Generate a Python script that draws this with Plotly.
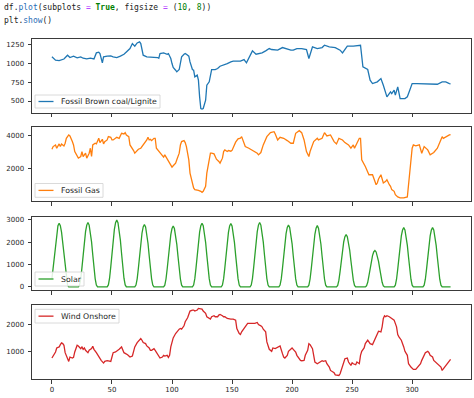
import plotly.graph_objects as go

# ---------------- data (hour index, MW) ----------------
coal_hours = [0, 3, 6, 10, 13, 15, 18, 21, 24, 26,
              29, 32, 35, 37, 39, 40, 42, 43, 46, 49,
              51, 54, 57, 60, 62, 65, 67, 68, 69, 71,
              73, 74, 76, 79, 82, 85, 88, 89, 90, 93,
              96, 97, 99, 100, 101, 103, 104, 106, 107, 108,
              110, 111, 112, 114, 115, 117, 118, 119, 121, 122,
              123, 124, 125, 126, 128, 129, 131, 132, 133, 136,
              138, 140, 143, 146, 149, 151, 157, 160, 162, 167,
              170, 175, 178, 181, 183, 188, 192, 194, 199, 201,
              204, 208, 212, 214, 217, 221, 225, 227, 231, 236,
              240, 242, 246, 251, 255, 257, 259, 262, 263, 265,
              267, 271, 274, 276, 278, 279, 282, 283, 285, 286,
              288, 289, 290, 294, 296, 298, 300, 304, 315, 321,
              325, 328, 331, 332]
coal_mw = [1090, 1044, 1040, 1060, 1111, 1080, 1098, 1075, 1089, 1071,
           1062, 1071, 1062, 1142, 1151, 1133, 1009, 1089, 1098, 1102,
           1089, 1080, 1098, 1124, 1155, 1200, 1266, 1244, 1231, 1275,
           1289, 1266, 1111, 1090, 1085, 1090, 1080, 1070, 1133, 1142,
           1124, 1133, 1067, 1000, 947, 911, 889, 920, 1000, 1089,
           1124, 1133, 1124, 1098, 1022, 920, 911, 822, 845, 778,
           556, 400, 392, 400, 511, 711, 756, 867, 920, 920,
           933, 964, 978, 1000, 1022, 1031, 1031, 1053, 1009, 1169,
           1124, 1142, 1169, 1200, 1187, 1178, 1213, 1200, 1178, 1178,
           1200, 1200, 1187, 1067, 1222, 1200, 1213, 1244, 1222, 1213,
           1178, 1142, 1231, 1231, 1240, 1244, 956, 933, 920, 778,
           733, 756, 800, 711, 600, 556, 622, 600, 644, 578,
           689, 578, 533, 533, 556, 644, 733, 733, 733, 724,
           756, 756, 733, 730]

gas_hours = [0, 1, 3, 4, 6, 7, 8, 10, 11, 12,
             14, 15, 17, 18, 19, 21, 22, 24, 25, 26,
             28, 29, 31, 32, 33, 34, 36, 37, 39, 40,
             42, 43, 44, 46, 47, 49, 50, 51, 54, 56,
             57, 58, 60, 61, 62, 64, 65, 67, 68, 69,
             71, 72, 74, 75, 76, 78, 79, 80, 81, 82,
             83, 85, 86, 87, 89, 90, 92, 93, 94, 96,
             97, 99, 100, 101, 103, 104, 106, 107, 108, 110,
             111, 112, 114, 115, 117, 118, 119, 121, 122, 124,
             125, 126, 128, 129, 131, 132, 133, 135, 136, 137,
             139, 140, 142, 143, 144, 146, 147, 149, 150, 151,
             153, 155, 157, 158, 160, 161, 164, 167, 169, 171,
             172, 174, 176, 179, 182, 185, 186, 188, 190, 193,
             196, 199, 201, 203, 206, 208, 210, 212, 214, 215,
             218, 221, 222, 225, 227, 229, 232, 235, 237, 239,
             242, 244, 247, 249, 251, 252, 254, 256, 257, 258,
             261, 264, 267, 268, 270, 271, 272, 274, 275, 276,
             278, 279, 281, 282, 283, 285, 286, 288, 290, 293,
             296, 297, 299, 300, 301, 303, 306, 308, 310, 313,
             315, 318, 321, 324, 325, 326, 328, 331, 332]
gas_mw = [3172, 3333, 3434, 3232, 3495, 3333, 3495, 3374, 3535, 3838,
          4040, 3980, 3636, 3434, 3030, 2727, 2626, 2727, 3030, 2727,
          2929, 2626, 2929, 3232, 2727, 3434, 3535, 3495, 3838, 3576,
          3778, 3495, 3636, 3737, 3939, 3899, 3737, 3737, 3899, 3838,
          4040, 4141, 4101, 4182, 4040, 3939, 3434, 3232, 3091, 2929,
          3131, 3172, 3232, 3333, 3434, 3576, 3737, 3899, 3737, 3778,
          3697, 3838, 3838, 3232, 3030, 2929, 2727, 2687, 2828, 2566,
          2424, 2121, 2081, 2162, 2323, 2525, 2929, 3434, 3636, 3697,
          3576, 3333, 2525, 1717, 1111, 808, 707, 707, 667, 606,
          546, 606, 909, 1717, 2626, 2929, 2929, 2889, 2727, 2566,
          2424, 2323, 2626, 3030, 3131, 3030, 3091, 3050, 3100, 3300,
          3600, 3800, 3850, 3939, 3434, 3333, 3232, 3091, 3030, 2929,
          2828, 2970, 3434, 3939, 4182, 4242, 4101, 3737, 3899, 3838,
          3697, 3535, 3535, 4141, 4303, 4182, 3737, 3030, 2727, 3030,
          3636, 3838, 3737, 3838, 4182, 3980, 4040, 3636, 3495, 3838,
          3737, 3576, 3434, 3232, 3434, 3232, 3535, 3838, 3838, 2525,
          2121, 1616, 1616, 1414, 1010, 1111, 1354, 1616, 1414, 1111,
          1212, 1313, 1010, 909, 707, 606, 404, 263, 202, 202,
          263, 909, 2525, 3232, 3434, 3374, 3434, 2929, 3333, 3131,
          2828, 2970, 3232, 3737, 3939, 3838, 3939, 4040, 4060]

# hourly solar output, one value per hour 0..332
solar_mw = [370, 855, 1425, 1995, 2450, 2735, 2850, 2735, 2450, 1995, 1425, 855, 370, 85,
            0, 0, 0, 0, 0, 0, 0, 0, 0,
            85, 375, 865, 1440, 2015, 2475, 2765, 2880, 2765, 2475, 2015, 1440, 865, 375, 85,
            0, 0, 0, 0, 0, 0, 0, 0, 0,
            90, 390, 895, 1495, 2095, 2570, 2870, 2990, 2870, 2570, 2095, 1495, 895, 390, 90,
            0, 0, 0, 0, 0, 0, 0, 0,
            85, 365, 835, 1395, 1955, 2400, 2680, 2790, 2680, 2400, 1955, 1395, 835, 365, 85,
            0, 0, 0, 0, 0, 0, 0, 0, 0,
            80, 355, 815, 1360, 1905, 2340, 2610, 2720, 2610, 2340, 1905, 1360, 815, 355, 80,
            0, 0, 0, 0, 0, 0, 0, 0, 0,
            85, 370, 855, 1425, 1995, 2450, 2735, 2850, 2735, 2450, 1995, 1425, 855, 370, 85,
            0, 0, 0, 0, 0, 0, 0, 0, 0,
            85, 370, 850, 1420, 1990, 2440, 2725, 2840, 2725, 2440, 1990, 1420, 850, 370, 85,
            0, 0, 0, 0, 0, 0, 0, 0, 0,
            85, 375, 865, 1440, 2015, 2475, 2765, 2880, 2765, 2475, 2015, 1440, 865, 375, 85,
            0, 0, 0, 0, 0, 0, 0, 0, 0,
            85, 360, 830, 1385, 1940, 2380, 2660, 2770, 2660, 2380, 1940, 1385, 830, 360, 85,
            0, 0, 0, 0, 0, 0, 0, 0, 0,
            80, 355, 820, 1370, 1920, 2355, 2630, 2740, 2630, 2355, 1920, 1370, 820, 355, 80,
            0, 0, 0, 0, 0, 0, 0, 0, 0,
            70, 305, 700, 1170, 1640, 2010, 2245, 2340, 2245, 2010, 1640, 1170, 700, 305, 70,
            0, 0, 0, 0, 0, 0, 0, 0, 0,
            50, 210, 490, 815, 1140, 1400, 1565, 1630, 1565, 1400, 1140, 815, 490, 210, 50,
            0, 0, 0, 0, 0, 0, 0, 0, 0,
            80, 345, 795, 1325, 1855, 2280, 2545, 2650, 2545, 2280, 1855, 1325, 795, 345, 80,
            0, 0, 0, 0, 0, 0, 0, 0, 0,
            80, 345, 795, 1325, 1855, 2280, 2545, 2650, 2545, 2280, 1855, 1325, 795, 345, 80,
            0, 0, 0, 0, 0, 0, 0, 0]
solar_hours = list(range(len(solar_mw)))

wind_hours = [0, 1, 3, 4, 6, 7, 8, 9, 10, 11,
              13, 14, 15, 17, 18, 19, 21, 22, 24, 25,
              26, 27, 28, 30, 31, 33, 34, 35, 37, 38,
              39, 41, 43, 44, 46, 47, 49, 50, 51, 53,
              54, 56, 58, 59, 60, 63, 65, 67, 68, 69,
              71, 74, 75, 76, 78, 79, 81, 82, 83, 85,
              86, 88, 90, 92, 93, 94, 96, 97, 98, 99,
              101, 103, 104, 106, 107, 108, 110, 111, 113, 114,
              115, 117, 118, 119, 121, 122, 124, 125, 126, 128,
              129, 131, 132, 133, 135, 136, 138, 139, 140, 142,
              143, 144, 146, 149, 151, 153, 154, 156, 157, 158,
              160, 161, 163, 164, 167, 169, 171, 172, 174, 175,
              176, 178, 179, 180, 181, 183, 184, 186, 188, 189,
              190, 192, 193, 194, 196, 197, 199, 200, 201, 203,
              204, 206, 207, 208, 210, 211, 213, 214, 215, 217,
              218, 219, 221, 222, 224, 225, 226, 228, 229, 231,
              232, 233, 235, 236, 238, 239, 240, 242, 243, 244,
              246, 247, 249, 250, 251, 253, 254, 256, 257, 258,
              260, 261, 263, 264, 265, 267, 268, 269, 271, 272,
              274, 275, 276, 277, 278, 279, 281, 282, 284, 285,
              287, 288, 289, 291, 293, 294, 296, 297, 299, 300,
              301, 303, 304, 306, 307, 308, 310, 311, 313, 314,
              315, 317, 318, 319, 321, 322, 324, 325, 326, 328,
              329, 331, 332]
wind_mw = [780, 841, 1000, 1146, 1183, 1268, 1329, 1305, 1244, 975,
           780, 658, 817, 780, 804, 1000, 1244, 1219, 1122, 1183,
           1097, 1146, 1061, 975, 1061, 1122, 1207, 1097, 975, 902,
           817, 695, 597, 658, 682, 682, 658, 817, 975, 1000,
           1024, 1097, 1183, 1097, 975, 902, 817, 853, 1024, 1183,
           1341, 1488, 1427, 1341, 1305, 1219, 1146, 1061, 1061, 1122,
           1061, 939, 780, 817, 878, 853, 878, 804, 878, 1183,
           1512, 1671, 1732, 1829, 1854, 1829, 1951, 2098, 2244, 2366,
           2488, 2525, 2525, 2488, 2525, 2586, 2586, 2561, 2488, 2403,
           2281, 2220, 2195, 2281, 2317, 2281, 2281, 2342, 2366, 2317,
           2281, 2281, 2220, 2195, 2195, 2159, 1854, 1671, 1634, 1732,
           1854, 1951, 2037, 2037, 2037, 2037, 2073, 2000, 1951, 1915,
           1829, 1732, 1366, 1183, 1097, 1024, 1146, 1122, 1183, 1183,
           1219, 939, 817, 780, 878, 1024, 1122, 1146, 1097, 1000,
           878, 756, 695, 682, 695, 878, 1061, 1305, 1268, 1122,
           878, 634, 573, 609, 658, 682, 658, 682, 573, 451,
           329, 292, 243, 170, 140, 146, 207, 451, 634, 756,
           780, 634, 512, 609, 573, 536, 634, 573, 878, 1024,
           1146, 1305, 1427, 1366, 1305, 1268, 1366, 1512, 1671, 1756,
           1732, 1915, 2220, 2317, 2281, 2317, 2281, 2244, 2195, 2159,
           1915, 1634, 1549, 1427, 1183, 1024, 878, 573, 451, 390,
           366, 366, 414, 487, 573, 695, 878, 975, 1024, 975,
           878, 817, 695, 658, 573, 512, 451, 329, 390, 487,
           573, 658, 731]

x_ticks = [0, 50, 100, 150, 200, 250, 300]
coal_ticks = [500, 750, 1000, 1250]
gas_ticks = [2000, 4000]
solar_ticks = [0, 1000, 2000, 3000]
wind_ticks = [1000, 2000]

series = [
    ("Fossil Brown coal/Lignite", coal_hours, coal_mw, "#1f77b4", coal_ticks),
    ("Fossil Gas", gas_hours, gas_mw, "#ff7f0e", gas_ticks),
    ("Solar", solar_hours, solar_mw, "#2ca02c", solar_ticks),
    ("Wind Onshore", wind_hours, wind_mw, "#d62728", wind_ticks),
]

# ---------------- layout (pixels) ----------------
W, H = 474, 398
x_left, x_right = 32, 470.5
panels_px = [(38.5, 112.5), (127.3, 201.3), (216.7, 290.3), (305, 379)]
# legend boxes: (left, top, right, bottom) in px
legend_boxes = [
    (35, 95, 160, 108),
    (35, 183.5, 103, 197.3),
    (35, 272, 84, 286),
    (35, 309.3, 119, 323),
]

axis_color = "#3a3a3a"
text_color = "#262626"
tick_font = dict(family="DejaVu Sans", size=7, color=text_color)


def px_x(v):
    return v / W


def px_y(v):
    return (H - v) / H


fig = go.Figure()
n_last = max(max(coal_hours), max(gas_hours), max(solar_hours), max(wind_hours))
x_pad = 0.05 * n_last
x_range = [-x_pad, n_last + x_pad]

for i, (name, xs, ys, color, yt) in enumerate(series):
    k = "" if i == 0 else str(i + 1)
    fig.add_trace(go.Scatter(
        x=xs, y=ys, mode="lines", name=name,
        line=dict(color=color, width=1.3),
        xaxis="x" + k, yaxis="y" + k, showlegend=False,
    ))
    top, bot = panels_px[i]
    lo, hi = min(ys), max(ys)
    pad = 0.05 * (hi - lo)
    fig.layout["xaxis" + k] = dict(
        domain=[px_x(x_left), px_x(x_right)], anchor="y" + k, range=x_range,
        tickvals=x_ticks, showticklabels=(i == 3), automargin=False,
        showline=True, mirror=True, linecolor=axis_color, linewidth=1,
        ticks="outside", ticklen=3.5, tickwidth=1, tickcolor=axis_color,
        showgrid=False, zeroline=False, tickfont=tick_font,
    )
    fig.layout["yaxis" + k] = dict(
        domain=[px_y(bot), px_y(top)], anchor="x" + k, automargin=False,
        range=[lo - pad, hi + pad], tickvals=yt,
        showline=True, mirror=True, linecolor=axis_color, linewidth=1,
        ticks="outside", ticklen=3.5, tickwidth=1, tickcolor=axis_color,
        showgrid=False, zeroline=False, tickfont=tick_font,
        ticklabelstandoff=2,
    )

    # matplotlib-style legend box drawn in figure pixels
    l, t, r, b = legend_boxes[i]
    fig.add_shape(
        type="rect", xref="paper", yref="paper",
        x0=px_x(l), x1=px_x(r), y0=px_y(b), y1=px_y(t),
        fillcolor="rgba(255,255,255,0.85)", line=dict(color="#d0d0d0", width=0.8),
        layer="above",
    )
    ym = (t + b) / 2
    fig.add_shape(
        type="line", xref="paper", yref="paper",
        x0=px_x(l + 3.5), x1=px_x(l + 18.5), y0=px_y(ym), y1=px_y(ym),
        line=dict(color=color, width=1.3), layer="above",
    )
    fig.add_annotation(
        text=name, xref="paper", yref="paper", x=px_x(l + 24.5), y=px_y(ym),
        xanchor="left", yanchor="middle", showarrow=False, borderpad=0,
        font=dict(family="DejaVu Sans", size=7.8, color=text_color),
    )

code1 = ('df.<span style="color:#2a6db5">plot</span>(subplots '
         '<span style="color:#aa22ff">=</span> '
         '<b><span style="color:#008000">True</span></b>, figsize '
         '<span style="color:#aa22ff">=</span> '
         '(<span style="color:#008000">10</span>, '
         '<span style="color:#008000">8</span>))')
code2 = 'plt.<span style="color:#2a6db5">show</span>()'
for txt, ypx in [(code1, 7.5), (code2, 20)]:
    fig.add_annotation(
        text=txt, xref="paper", yref="paper", x=px_x(3), y=px_y(ypx),
        xanchor="left", yanchor="middle", showarrow=False, borderpad=0,
        font=dict(family="DejaVu Sans Mono", size=8, color="#1a1a1a"),
    )

fig.update_layout(
    width=W, height=H, margin=dict(l=0, r=0, t=0, b=0),
    paper_bgcolor="white", plot_bgcolor="white", showlegend=False,
)

# remove the browser's default 8px page margin so the figure fills the window
fig.write_html(
    "out.html",
    config={"displayModeBar": False},
    post_script="document.body.style.margin='0';document.body.style.overflow='hidden';",
)
